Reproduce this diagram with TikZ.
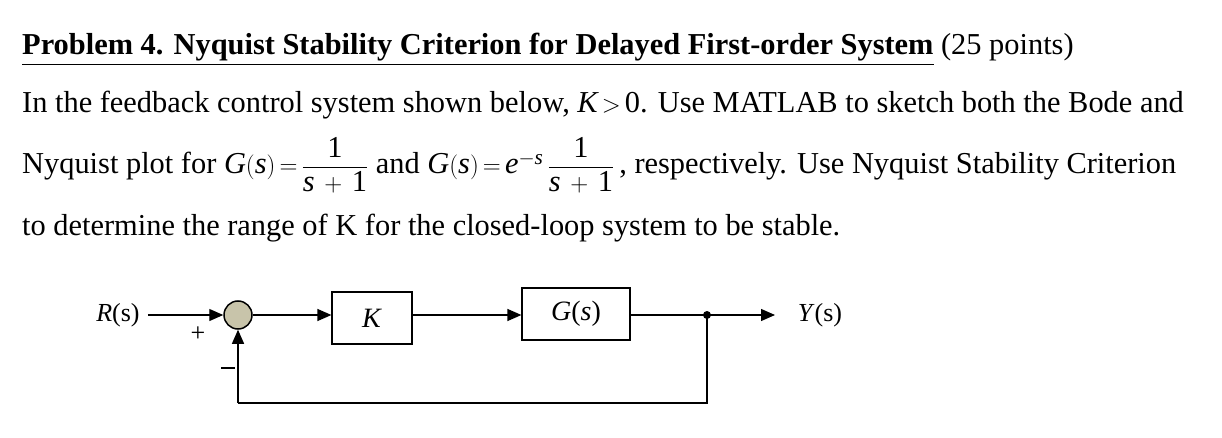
\documentclass[tikz,border=0pt]{standalone}
\usepackage{fontspec}
\setmainfont{Liberation Serif}
\usetikzlibrary{arrows.meta}
\newcommand{\myfr}{\dfrac{\textrm{1}}{\textit{s}\,+\,\textrm{1}}}
\usepackage{amsmath}
\begin{document}
\begin{tikzpicture}[x=1pt,y=-1pt,
  txt/.style={anchor=west,inner sep=0pt,font=\fontsize{30.4}{35}\selectfont},
  blk/.style={draw,line width=1.2pt,minimum width=80pt,minimum height=52pt,inner sep=0pt,font=\fontsize{28}{32}\selectfont},
  lbl/.style={inner sep=0pt,font=\fontsize{26}{30}\selectfont},
  sig/.style={line width=1.2pt,-{Triangle[length=14pt,width=12pt]}},
  wire/.style={line width=1.2pt}]
\useasboundingbox (0,0) rectangle (1222,438);
\node[txt] (t1) at (22,50) {\underline{\textbf{Problem 4. Nyquist Stability Criterion for Delayed First-order System}} (25 points)};
\node[txt] (t2) at (22,105) {In the feedback control system shown below, $\textit{K}\,{>}\,\textrm{0}$. Use MATLAB to sketch both the Bode and};
\node[txt] (t3) at (22,165) {Nyquist plot for $\textit{G}(\textit{s})\,{=}\,\myfr$ and $\textit{G}(\textit{s})\,{=}\,\textit{e}^{-\textit{s}}\,\myfr$\,, respectively. Use Nyquist Stability Criterion};
\node[txt] (t4) at (22,228) {to determine the range of K for the closed-loop system to be stable.};
\node[lbl] (r) at (118,315) {\textit{R}(s)};
\node[draw,line width=1.5pt,circle,fill={rgb,255:red,200;green,196;blue,170},minimum size=28pt,inner sep=0pt] (sum) at (238,315) {};
\node[blk] (k) at (372,318) {\textit{K}};
\node[blk,minimum width=108pt] (g) at (576,314) {\textit{G}(\textit{s})};
\fill (707,315) circle (4pt) coordinate (j);
\coordinate (ye) at (775,315);
\node[lbl] (y) at (820,315) {\textit{Y}(s)};
\node[lbl] (plus) at (198,334) {+};
\node[inner sep=0pt] (minus) at (228,368) {\rule{14pt}{2pt}};
\coordinate (c1) at (707,403);
\coordinate (c2) at (238,403);
\draw[sig] (r.east)++(8,0) -- (sum.west);
\draw[sig] (sum.east) -- (sum.east -| k.west);
\draw[sig] (k.east |- sum) -- (g.west |- sum);
\draw[wire] (g.east |- sum) -- (j);
\draw[sig] (j) -- (ye);
\draw[wire] (j) -- (c1) -- (c2);
\draw[sig] (c2) -- (sum.south);
\end{tikzpicture}
\end{document}
